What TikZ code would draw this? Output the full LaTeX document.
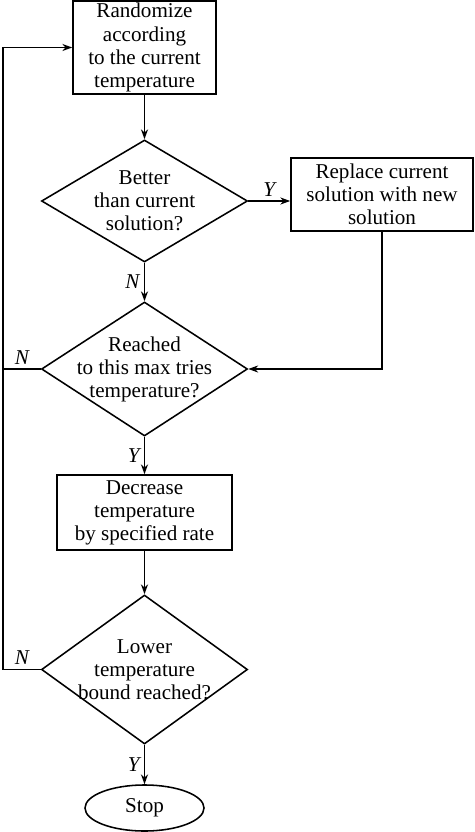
\documentclass[tikz,border=0pt]{standalone}
\usepackage{fontspec}
\setmainfont{Liberation Serif}
\usetikzlibrary{shapes,arrows.meta,positioning}
\newcommand{\chartfont}{\fontsize{15}{16.4}\selectfont}
\tikzset{
	stepbox/.style={rectangle,draw,line width=1.1pt,align=center,inner sep=1pt},
	decision/.style={diamond,draw,line width=1.1pt,inner sep=0pt,minimum width=5.15cm},
	decisiontext/.style={align=center,inner sep=0pt},
	stopnode/.style={ellipse,draw,line width=1.1pt,minimum width=2.975cm,minimum height=1.15cm},
	flow/.style={line width=1.1pt},
	dirflow/.style={-{Stealth[width=5pt,length=7pt]},line width=1.1pt},
	answer/.style={font=\chartfont\itshape,inner sep=3pt}
}

\begin{document}
\begin{tikzpicture}[x=0.025cm,y=-0.025cm,font=\chartfont]
		\useasboundingbox (0,0) rectangle (474,832);
		%%% boxes
		\node[stepbox,minimum width=3.575cm,minimum height=2.325cm] (randomize) at (144.5,47.5) {Randomize\\according\\to the current\\temperature};
		\node[stepbox,minimum width=4.55cm,minimum height=1.825cm] (replace) at (382,194.5) {Replace current\\solution with new\\solution};
		\node[stepbox,minimum width=4.375cm,minimum height=1.875cm] (decrease) at (144.5,512.5) {Decrease\\temperature\\by specified rate};
		\node[stopnode] (stop) at (144.5,808) {Stop};
		
		%%% decisions
		\node[decision,minimum height=3.05cm] (better) at (144.5,201) {};
		\node[decisiontext] at (better) {Better\\than current\\solution?};
		\node[decision,minimum height=3.35cm] (reached) at (144.5,369) {};
		\node[decisiontext] at (reached) {Reached\\to this max tries\\temperature?};
		\node[decision,minimum height=3.725cm] (lower) at (144.5,669.5) {};
		\node[decisiontext] at (lower) {Lower\\temperature\\bound reached?};
		
		\coordinate (ret) at (3,669.5);
		
		%%% connectors
		\draw[dirflow] (randomize) -- (better);
		\draw[dirflow] (better.east) -- node[answer,above] {Y} (better.east -| replace.west);
		\draw[dirflow] (replace.south) |- (reached.east);
		\draw[dirflow] (better) -- node[answer,left] {N} (reached);
		\draw[dirflow] (reached) -- node[answer,left] {Y} (decrease);
		\draw[dirflow] (decrease) -- (lower);
		\draw[dirflow] (lower) -- node[answer,left] {Y} (stop);
		\draw[flow] (reached.west) -- node[answer,above] {N} (reached.west -| ret);
		\draw[flow] (lower.west) -- node[answer,above] {N} (ret);
		\draw[dirflow] (ret) |- (randomize.west);
	\end{tikzpicture}
\end{document}
